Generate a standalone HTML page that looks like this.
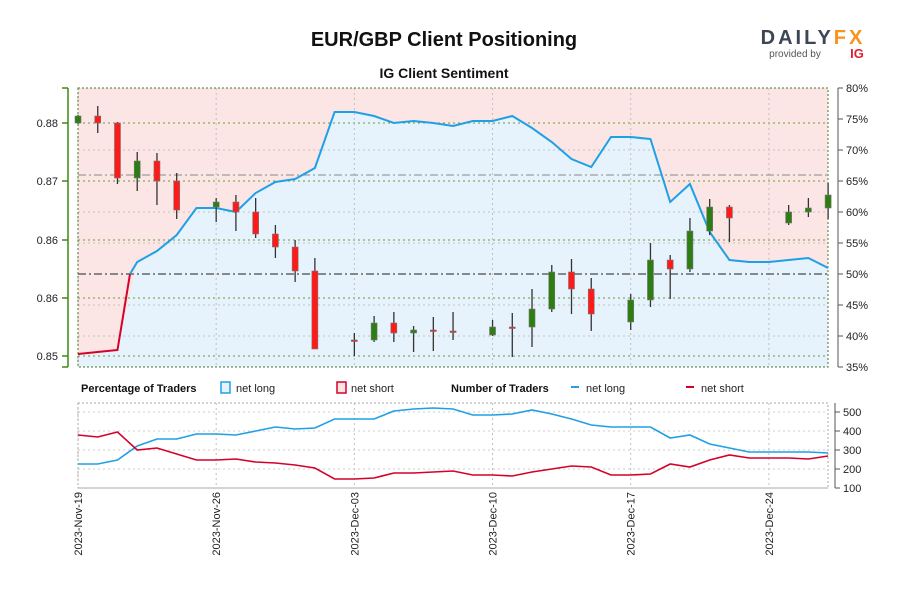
<!DOCTYPE html>
<html><head><meta charset="utf-8"><style>
body{margin:0;background:#fff;width:900px;height:600px;overflow:hidden;font-family:"Liberation Sans",sans-serif}
</style></head><body>
<svg id="s" width="900" height="600" xmlns="http://www.w3.org/2000/svg" font-family="Liberation Sans, sans-serif">
<rect width="900" height="600" fill="#fff"/>
<text x="444" y="46" text-anchor="middle" font-size="20" font-weight="bold" fill="#111">EUR/GBP Client Positioning</text>
<text x="444" y="78" text-anchor="middle" font-size="14" font-weight="bold" fill="#111">IG Client Sentiment</text>
<text x="813" y="44" text-anchor="middle" font-size="20" font-weight="bold" letter-spacing="3" fill="#3d4654">DAILY<tspan fill="#f7931e">FX</tspan></text>
<text x="795" y="57" text-anchor="middle" font-size="10" fill="#555">provided by</text>
<text x="857" y="58" text-anchor="middle" font-size="13" font-weight="bold" fill="#e0202e">IG</text>
<g id="g"></g>
</svg>
<script>
const g=document.getElementById('g');let h='';
const X=i=>78+i*19.74;
h+='<rect x="78" y="88" width="750" height="279" fill="#fbe5e5"/>';
const sl=[354,353,350,262,251,235,208,208,212,193,182,179,168,112,112,116,123,121,123,126,121,121,116,128,142,159,167,137,137,139,202,184,232,260,262,262,260,258,268];
let p='78,367 ';sl.forEach((y,i)=>p+=X(i)+','+y+' ');p+='828,367';
h+='<polygon points="'+p+'" fill="#e6f3fc"/>';
// grids
[123,181,240,298,356].forEach(y=>h+='<line x1="78" x2="828" y1="'+y+'" y2="'+y+'" stroke="#6a9a3a" stroke-dasharray="2,3" stroke-width="1"/>');
[150,212,243,305,336].forEach(y=>h+='<line x1="78" x2="828" y1="'+y+'" y2="'+y+'" stroke="#c8c0c0" stroke-dasharray="2,3"/>');
[0,7,14,21,28,35].forEach(i=>{h+='<line x1="'+X(i)+'" x2="'+X(i)+'" y1="88" y2="367" stroke="#c0c0c0" stroke-dasharray="2,3"/>';
 h+='<line x1="'+X(i)+'" x2="'+X(i)+'" y1="403" y2="488" stroke="#c0c0c0" stroke-dasharray="2,3"/>';});
h+='<rect x="78" y="88" width="750" height="279" fill="none" stroke="#4a7a2a" stroke-dasharray="2,2"/>';
h+='<line x1="78" x2="828" y1="175" y2="175" stroke="#888" stroke-dasharray="8,3,2,3"/>';
h+='<line x1="78" x2="828" y1="274" y2="274" stroke="#666" stroke-width="1.5" stroke-dasharray="8,3,2,3"/>';
// sentiment line
let rb='',bb='';
sl.forEach((y,i)=>{if(i<=2)rb+=X(i)+','+y+' ';if(i>=2)bb+=X(i)+','+y+' ';});
h+='<polyline points="'+X(0)+',354 '+X(2)+',350 130,274" fill="none" stroke="#d6002a" stroke-width="2"/>';
h+='<polyline points="130,274 '+bb.replace(X(2)+',350 ','')+'" fill="none" stroke="#1fa0e6" stroke-width="2"/>';
// candles [i,open,close,high,low,color g/r]
const c=[[0,116,123,115,124,'g'],[1,116,123,106,133,'r'],[2,123,178,122,184,'r'],[3,161,178,152,191,'g'],[4,161,181,153,205,'r'],[5,181,210,173,219,'r'],
[7,202,207,198,222,'g'],[8,202,212,195,231,'r'],[9,212,234,198,238,'r'],[10,234,247,225,258,'r'],[11,247,271,240,282,'r'],[12,271,349,258,349,'r'],
[14,340,341,333,356,'r'],[15,323,340,316,342,'g'],[16,323,333,312,342,'r'],[17,330,333,326,352,'g'],[18,330,331,317,351,'r'],[19,331,332,312,340,'r'],
[21,327,335,320,336,'g'],[22,327,328,313,357,'r'],[23,309,327,289,347,'g'],[24,272,309,265,312,'g'],[25,272,289,259,314,'r'],[26,289,314,278,331,'r'],
[28,300,322,294,330,'g'],[29,260,300,243,307,'g'],[30,260,269,255,299,'r'],[31,231,269,218,272,'g'],[32,207,231,199,235,'g'],[33,207,218,205,242,'r'],
[36,212,223,205,225,'g'],[37,208,212,198,217,'g'],[38,195,208,183,219,'g']];
c.forEach(([i,o,cl,hi,lo,col])=>{const x=X(i);h+='<line x1="'+x+'" x2="'+x+'" y1="'+hi+'" y2="'+lo+'" stroke="#333" stroke-width="1.3"/>';
 h+='<rect x="'+(x-3)+'" y="'+o+'" width="6" height="'+Math.max(cl-o,1.5)+'" fill="'+(col=='g'?'#2e7d12':'#ff1a1a')+'" stroke="#777" stroke-width="0.6"/>';});
// left axis
h+='<line x1="68" x2="68" y1="88" y2="367" stroke="#3d8a12" stroke-width="1.5"/>';
[['0.88',123],['0.87',181],['0.86',240],['0.86',298],['0.85',356]].forEach(([t,y])=>{h+='<line x1="62" x2="68" y1="'+y+'" y2="'+y+'" stroke="#3d8a12" stroke-width="1.5"/><text x="58" y="'+(y+4)+'" text-anchor="end" font-size="11" fill="#222">'+t+'</text>';});
h+='<line x1="62" x2="68" y1="88" y2="88" stroke="#3d8a12" stroke-width="1.5"/><line x1="62" x2="68" y1="367" y2="367" stroke="#3d8a12" stroke-width="1.5"/>';
// right axis
h+='<line x1="838" x2="838" y1="88" y2="367" stroke="#555"/>';
for(let k=0;k<10;k++){const y=88+k*31;h+='<line x1="838" x2="843" y1="'+y+'" y2="'+y+'" stroke="#555"/><text x="846" y="'+(y+4)+'" font-size="11" fill="#222">'+(80-5*k)+'%</text>';}
// legend
h+='<text x="81" y="392" font-size="11" font-weight="bold" fill="#111">Percentage of Traders</text>';
h+='<rect x="221" y="382" width="9" height="11" fill="#e6f3fc" stroke="#1fa0e6" stroke-width="1.5"/><text x="236" y="392" font-size="11" fill="#222">net long</text>';
h+='<rect x="337" y="382" width="9" height="11" fill="#fbe5e5" stroke="#d6002a" stroke-width="1.5"/><text x="351" y="392" font-size="11" fill="#222">net short</text>';
h+='<text x="451" y="392" font-size="11" font-weight="bold" fill="#111">Number of Traders</text>';
h+='<line x1="571" x2="579" y1="387" y2="387" stroke="#1fa0e6" stroke-width="2"/><text x="586" y="392" font-size="11" fill="#222">net long</text>';
h+='<line x1="686" x2="694" y1="387" y2="387" stroke="#d6002a" stroke-width="2"/><text x="701" y="392" font-size="11" fill="#222">net short</text>';
// bottom panel
h+='<rect x="78" y="403" width="750" height="85" fill="none" stroke="#aaa" stroke-dasharray="2,2"/>';
[412,431,450,469].forEach(y=>h+='<line x1="78" x2="828" y1="'+y+'" y2="'+y+'" stroke="#ccc" stroke-dasharray="2,3"/>');
h+='<line x1="78" x2="828" y1="488" y2="488" stroke="#aaa"/>';
h+='<line x1="835" x2="835" y1="403" y2="488" stroke="#555"/>';
[[500,412],[400,431],[300,450],[200,469],[100,488]].forEach(([t,y])=>h+='<line x1="835" x2="840" y1="'+y+'" y2="'+y+'" stroke="#555"/><text x="843" y="'+(y+4)+'" font-size="11" fill="#222">'+t+'</text>');
const bl=[464,464,460,446,439,439,434,434,435,431,427,429,428,419,419,419,411,409,408,409,415,415,414,410,414,419,425,427,427,427,438,435,444,448,452,452,452,452,453];
const rl=[435,437,432,450,448,454,460,460,459,462,463,465,468,479,479,478,473,473,472,471,475,475,476,472,469,466,467,475,475,474,464,467,460,455,458,458,458,459,456];
h+='<polyline points="'+bl.map((y,i)=>X(i)+','+y).join(' ')+'" fill="none" stroke="#1fa0e6" stroke-width="1.6"/>';
h+='<polyline points="'+rl.map((y,i)=>X(i)+','+y).join(' ')+'" fill="none" stroke="#d6002a" stroke-width="1.6"/>';
['2023-Nov-19','2023-Nov-26','2023-Dec-03','2023-Dec-10','2023-Dec-17','2023-Dec-24'].forEach((t,k)=>{const x=X(k*7)+4;h+='<text transform="translate('+x+',492) rotate(-90)" text-anchor="end" font-size="11" fill="#222">'+t+'</text>';});
g.innerHTML=h;
</script>
</body></html>
